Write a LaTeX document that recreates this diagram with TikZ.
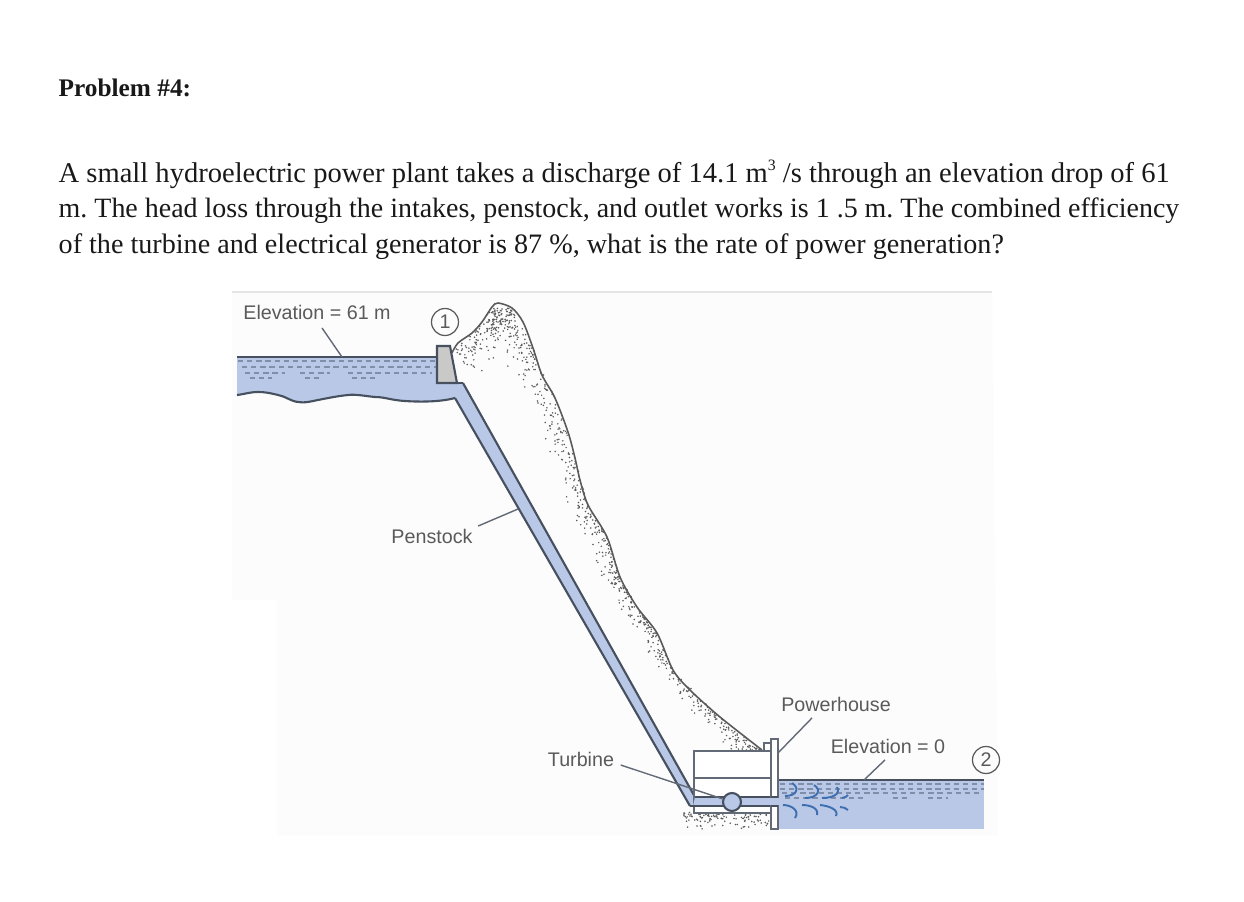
\documentclass[tikz,border=0pt]{standalone}
\usepackage{fontspec}
\setmainfont{Liberation Serif}
\setsansfont{Liberation Sans}
\definecolor{waterblue}{HTML}{B8C8E6}
\definecolor{pipeline}{HTML}{46505F}
\definecolor{labelgray}{HTML}{5A5A5A}
\definecolor{wavegray}{HTML}{7F8EA9}
\definecolor{swirlblue}{HTML}{3F6FB0}
\definecolor{damgray}{HTML}{C9C9C7}
\definecolor{paper}{HTML}{FCFCFC}
\tikzset{
  bodytext/.style={anchor=base west, inner sep=0pt, text=black!90},
  lbl/.style={inner sep=0pt, text=labelgray, font=\sffamily\fontsize{5.6}{7}\selectfont},
  leader/.style={draw=pipeline!85, line width=0.4pt},
  edgeline/.style={draw=pipeline, line width=0.6pt},
  houseline/.style={draw=pipeline!85, line width=0.5pt},
  wavedash/.style={draw=wavegray, line width=0.5pt, dash pattern=on 1.5pt off 1.1pt},
  swirl/.style={draw=swirlblue, line width=0.55pt},
  station/.style={circle, draw=labelgray, line width=0.35pt, inner sep=0pt, minimum size=0.27cm, text=labelgray, font=\sffamily\fontsize{5.6}{7}\selectfont}
}
\begin{document}
\begin{tikzpicture}[x=0.01cm, y=-0.01cm]
  \useasboundingbox (0,0) rectangle (1244,902);
  \fill[white] (0,0) rectangle (1244,902);
  \fill[paper] (232,292) -- (992,292) -- (998,835) -- (277,835) -- (277,600) -- (232,600) -- cycle;
  \draw[black!10, line width=0.3pt] (232,292) -- (992,292);

  \node[bodytext, font=\bfseries\fontsize{7.2}{10}\selectfont] (title) at (58,96) {Problem \#4:};
  \node[bodytext, font=\fontsize{8.12}{10}\selectfont] (lineone) at (58,182) {A small hydroelectric power plant takes a discharge of 14.1 m{\fontsize{4.5}{5}\selectfont\raisebox{3.2pt}{3}} /s through an elevation drop of 61};
  \node[bodytext, font=\frenchspacing\fontsize{7.95}{10}\selectfont] (linetwo) at (58,217) {m. The head loss through the intakes, penstock, and outlet works is 1 .5 m. The combined efficiency};
  \node[bodytext, font=\fontsize{8}{10}\selectfont] (linethree) at (58,253) {of the turbine and electrical generator is 87 \%, what is the rate of power generation?};

  \pgfmathsetseed{4}
  \foreach \ax/\ay/\bx/\by/\ox/\oy/\num in {
    452/353/472/333/30/25/50, 472/333/492/307/30/20/50, 492/307/512/308/0/40/55,
    512/308/533/348/-40/10/70, 533/348/555/398/-35/0/60, 555/398/575/458/-30/0/60,
    575/458/588/505/-20/0/50, 588/505/607/537/-22/0/50, 607/537/620/577/-20/0/50,
    620/577/637/607/-20/0/50, 637/607/657/633/-22/0/50, 657/633/673/670/-20/0/50,
    673/670/720/717/-10/14/70, 720/717/762/750/-8/20/80, 683/812/778/812/0/18/130} {
    \foreach \i in {1,...,\num} {
      \pgfmathsetmacro\tt{rnd}
      \pgfmathsetmacro\dd{rnd*(0.2+0.8*rnd)}
      \fill[labelgray] ({\ax+\tt*(\bx-\ax)+\dd*\ox},{\ay+\tt*(\by-\ay)+\dd*\oy}) circle[radius=0.85];
    }
  }
  \draw[labelgray, line width=0.45pt] plot[smooth, tension=0.5] coordinates {(452,353) (458,343) (472,333) (482,322) (492,307) (498,303) (512,308) (523,322) (533,348) (542,375) (555,398) (568,432) (575,458) (580,480) (588,505) (607,537) (620,577) (637,607) (657,633) (673,670) (690,690) (720,717) (762,750)};

  \fill[waterblue] (237,357) -- (437,357) -- (437,383) -- (463,383) -- (695,797) -- (778,797) -- (778,805) -- (690,806) -- (455,398)
    .. controls (440,402) and (420,402) .. (405,401) .. controls (390,400) and (385,397) .. (375,397)
    .. controls (365,396) and (355,394) .. (348,395) .. controls (338,396) and (328,398) .. (318,400)
    .. controls (308,402) and (305,403) .. (298,402) .. controls (290,401) and (285,396) .. (278,395)
    .. controls (270,393) and (265,392) .. (258,392) .. controls (250,392) and (245,394) .. (237,395) -- cycle;
  \draw[edgeline] (237,357) -- (437,357);
  \draw[edgeline] (463,383) -- (695,797);
  \draw[edgeline] (455,398) -- (690,806);
  \draw[edgeline] (455,398)
    .. controls (440,402) and (420,402) .. (405,401) .. controls (390,400) and (385,397) .. (375,397)
    .. controls (365,396) and (355,394) .. (348,395) .. controls (338,396) and (328,398) .. (318,400)
    .. controls (308,402) and (305,403) .. (298,402) .. controls (290,401) and (285,396) .. (278,395)
    .. controls (270,393) and (265,392) .. (258,392) .. controls (250,392) and (245,394) .. (237,395);
  \draw[edgeline, fill=damgray] (437,346) -- (450,346) -- (457,383) -- (437,383) -- cycle;
  \draw[edgeline] (457,383) -- (463,383);

  \foreach \rowy/\xa/\xb in {361/238/436, 367/242/436, 373/245/285, 373/300/330, 373/348/432, 378/250/272, 378/305/322, 378/352/375} {
    \draw[wavedash] (\xa,\rowy) -- (\xb,\rowy);
  }

  \fill[waterblue] (778,780) rectangle (984,829);
  \foreach \rowy/\xa/\xb in {784/780/984, 789/780/984, 793/782/982, 798/785/865, 798/893/910, 798/928/948} {
    \draw[wavedash] (\xa,\rowy) -- (\xb,\rowy);
  }
  \draw[edgeline] (778,780) -- (984,780);
  \draw[swirl] (785,796) .. controls (797,796) and (800,788) .. (792,783);
  \draw[swirl] (805,798) .. controls (818,798) and (822,790) .. (814,785);
  \draw[swirl] (822,798) .. controls (833,798) and (841,794) .. (837,787);
  \draw[swirl] (842,798) .. controls (845,798) and (847,796) .. (848,795);
  \draw[swirl] (783,805) .. controls (792,805) and (800,811) .. (795,818);
  \draw[swirl] (802,805) .. controls (810,805) and (819,808) .. (817,815);
  \draw[swirl] (820,805) .. controls (830,806) and (839,810) .. (836,816);
  \draw[swirl] (840,807) .. controls (843,807) and (846,808) .. (848,810);

  \draw[houseline, fill=white] (694,751) rectangle (771,813);
  \draw[houseline] (694,778) -- (771,778);
  \fill[waterblue] (695,797) -- (771,797) -- (771,806) -- (693,806) -- cycle;
  \draw[edgeline] (695,797) -- (771,797);
  \draw[edgeline] (690,806) -- (771,806);
  \draw[houseline, fill=white] (764,743) rectangle (771,751);
  \draw[houseline, fill=white] (771,739) rectangle (778,797);
  \draw[houseline, fill=white] (771,806) rectangle (778,829);
  \fill[waterblue] (771,797.5) rectangle (778,805.5);
  \draw[edgeline] (771,797) -- (778,797);
  \draw[edgeline] (771,806) -- (778,806);

  \node[circle, edgeline, fill=waterblue, minimum size=0.18cm, inner sep=0pt] (turbinewheel) at (732,802) {};

  \node[lbl] (elevtop) at (317,312) {Elevation = 61 m};
  \node[lbl] (penstock) at (432,536) {Penstock};
  \node[lbl] (turbine) at (581,759) {Turbine};
  \node[lbl] (powerhouse) at (836,704) {Powerhouse};
  \node[lbl] (elevlow) at (888,746) {Elevation = 0};
  \node[station] (stationone) at (445,322) {1};
  \node[station] (stationtwo) at (986,760) {2};

  \coordinate (surfacetop) at (342,357);
  \coordinate (surfacelow) at (864,780);
  \coordinate (pipeside) at (518,509);
  \coordinate (housewall) at (778,753);

  \draw[leader] ([shift={(5,8)}]elevtop.south) -- (surfacetop);
  \draw[leader] ([shift={(5,-10)}]penstock.east) -- (pipeside);
  \draw[leader] ([shift={(6,6)}]turbine.east) -- (turbinewheel);
  \draw[leader] ([shift={(-24,6)}]powerhouse.south) -- (housewall);
  \draw[leader] ([shift={(-3,6)}]elevlow.south) -- (surfacelow);
\end{tikzpicture}
\end{document}
